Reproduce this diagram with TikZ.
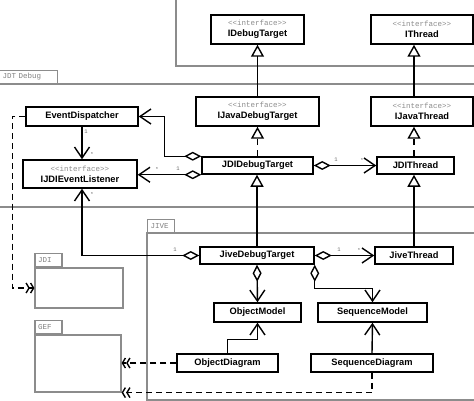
\documentclass[tikz,border=0pt]{standalone}
\usepackage{fontspec}
\setmainfont{Liberation Sans}
\newfontfamily\monofnt{Liberation Mono}
\usepackage{tikz}
\usetikzlibrary{arrows.meta,positioning,calc}

\newcommand{\stereo}[1]{{\monofnt\mdseries\fontsize{7.5}{8}\selectfont\color{black!45}<\kern0pt<#1>\kern0pt>}}

\begin{document}
\begin{tikzpicture}[
    x=1pt, y=-1pt,
    cls/.style={draw, line width=1.5pt, fill=white, font=\bfseries\fontsize{9.3}{10}\selectfont, inner sep=0pt, minimum height=18pt},
    itf/.style={cls, align=center, minimum height=29pt},
    pkg/.style={draw=black!45, line width=1.2pt, inner sep=0pt},
    tab/.style={pkg, font=\monofnt\fontsize{7.5}{8}\selectfont, text=black!50, inner xsep=3pt, minimum height=13pt, anchor=south west, align=left},
    mult/.style={font=\monofnt\fontsize{5.5}{6}\selectfont, text=black!60, inner sep=0pt},
    gen/.style={line width=1.4pt, -{Triangle[open, length=12pt, width=13pt]}},
    real/.style={gen, dash pattern=on 6pt off 5pt},
    nav/.style={line width=1.4pt, -{Straight Barb[length=11pt, width=15pt]}},
    agg/.style={line width=1.4pt, {Diamond[open, length=17pt, width=9pt]}-{Straight Barb[length=11pt, width=15pt]}},
    dep/.style={line width=1.4pt, dash pattern=on 6pt off 4pt, -{Straight Barb[length=3pt, width=10pt] Straight Barb[length=3pt, width=10pt]}}
  ]
    \useasboundingbox (0,0) rectangle (474,401);
    \clip (0,0) rectangle (474,401);

    % packages
    \draw[pkg] (176,-10) rectangle (490,66);
    \draw[pkg] (-10,84) rectangle (490,207);
    \node[tab, text width=52pt] (jdttab) at (-1,84) {JDT Debug};
    \draw[pkg] (147,233) rectangle (490,400);
    \node[tab, text width=21pt] (jivetab) at (147,233) {JIVE};
    \node[pkg, minimum width=88pt, minimum height=40pt] (jdi) at (79,288) {};
    \node[tab, text width=21pt] (jditab) at (jdi.north west) {JDI};
    \node[pkg, minimum width=86pt, minimum height=57pt] (gef) at (78,363.5) {};
    \node[tab, text width=21pt] (geftab) at (gef.north west) {GEF};

    % classes
    \node[itf, minimum width=93pt] (idt) at (257.5,29.5) {\stereo{interface}\\[1pt]IDebugTarget};
    \node[itf, minimum width=102pt] (ithr) at (422,29.5) {\stereo{interface}\\[1pt]IThread};
    \node[itf, minimum width=123pt] (ijdt) at (257.5,111.5) {\stereo{interface}\\[1pt]IJavaDebugTarget};
    \node[itf, minimum width=102pt] (ijthr) at (422,111.5) {\stereo{interface}\\[1pt]IJavaThread};
    \node[cls, minimum width=112pt, minimum height=19pt] (ed) at (82,116.5) {EventDispatcher};
    \node[itf, minimum width=114pt, minimum height=28pt] (iel) at (80,174) {\stereo{interface}\\[1pt]IJDIEventListener};
    \node[cls, minimum width=111pt, minimum height=17pt] (jdidt) at (257.5,165.5) {JDIDebugTarget};
    \node[cls, minimum width=77pt, minimum height=17pt] (jdithr) at (415.5,165.5) {JDIThread};
    \node[cls, minimum width=114pt, minimum height=17pt] (jvdt) at (257,255.5) {JiveDebugTarget};
    \node[cls, minimum width=78pt, minimum height=17pt] (jvthr) at (414,255.5) {JiveThread};
    \node[cls, minimum width=87pt, minimum height=19pt] (om) at (257.5,312.5) {ObjectModel};
    \node[cls, minimum width=109pt, minimum height=19pt] (sm) at (372.5,312.5) {SequenceModel};
    \node[cls, minimum width=101pt] (od) at (227.5,363) {ObjectDiagram};
    \node[cls, minimum width=122pt] (sd) at (372,363) {SequenceDiagram};
    \coordinate (tcol) at (414,0);

    % inheritance
    \draw[gen] (ijdt.north) -- (idt.south);
    \draw[gen] (ijthr.north -| tcol) -- (ithr.south -| tcol);
    \draw[real] (jdidt.north) -- (ijdt.south);
    \draw[real] (jdithr.north -| tcol) -- (ijthr.south -| tcol);
    \draw[gen] (jvdt.north) -- (jdidt.south -| jvdt.north);
    \draw[gen] (jvthr.north -| tcol) -- (jdithr.south -| tcol);

    % associations
    \draw[agg] (jdidt.east) -- (jdithr.west);
    \draw[agg] (jvdt.east) -- (jvthr.west);
    \draw[agg] (jdidt.north west) -- ++(-37,0) |- (ed.east);
    \draw[agg] (jdidt.south west) -- (jdidt.south west -| iel.east);
    \draw[nav] (ed.south) -- (ed.south |- iel.north);
    \draw[agg] (jvdt.west) -| (ed.south |- iel.south);
    \draw[agg] (jvdt.south) -- (om.north);
    \draw[agg] (jvdt.south east) -- ++(0,24) -| (sm.north);
    \draw[nav] (od.north) -- ++(0,-14) -| (om.south);
    \draw[nav] (sd.north) -- (sm.south);

    % dependencies
    \draw[dep] (ed.west) -- ++(-13,0) |- (jdi.west);
    \draw[dep] (od.west) -- (od.west -| gef.east);
    \draw[dep] (sd.south) |- (gef.south east);

    % multiplicities
    \node[mult] (m1) at (86,132) {1};
    \node[mult] (m2) at (92,155) {*};
    \node[mult] (m3) at (92,195) {*};
    \node[mult] (m4) at (157,170) {*};
    \node[mult] (m5) at (178,169) {1};
    \node[mult] (m6) at (336,160) {1};
    \node[mult] (m7) at (362,161) {*};
    \node[mult] (m8) at (339,250) {1};
    \node[mult] (m9) at (359,251) {*};
    \node[mult] (m10) at (175,250) {1};
  \end{tikzpicture}
\end{document}
